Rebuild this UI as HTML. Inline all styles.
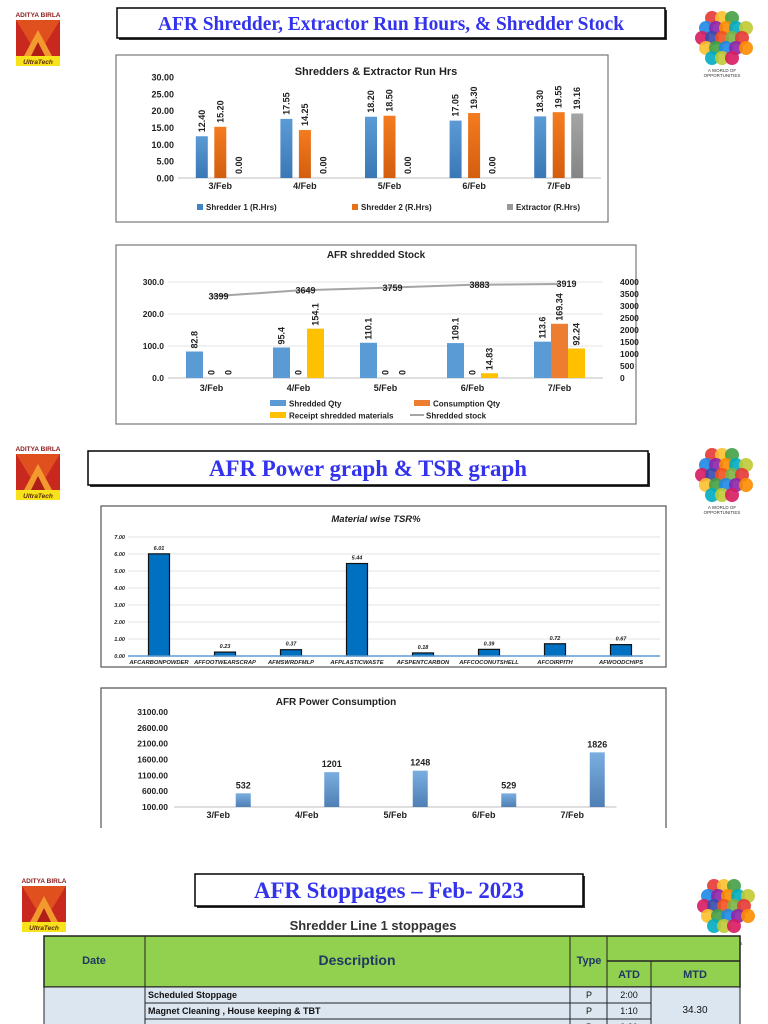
<!DOCTYPE html>
<html><head><meta charset="utf-8">
<style>
html,body{margin:0;padding:0;background:#fff;}
svg{display:block;font-family:"Liberation Sans",sans-serif;}
</style></head>
<body>
<svg id="page" width="768" height="1024" viewBox="0 0 768 1024" xmlns="http://www.w3.org/2000/svg">
<defs>
<linearGradient id="gBlue" x1="0" y1="0" x2="0" y2="1"><stop offset="0" stop-color="#5B9BD5"/><stop offset="1" stop-color="#3A78B5"/></linearGradient>
<linearGradient id="gOrange" x1="0" y1="0" x2="0" y2="1"><stop offset="0" stop-color="#F47B20"/><stop offset="1" stop-color="#D35E0E"/></linearGradient>
<linearGradient id="gGray" x1="0" y1="0" x2="0" y2="1"><stop offset="0" stop-color="#A5A5A5"/><stop offset="1" stop-color="#858585"/></linearGradient>
<linearGradient id="gPow" x1="0" y1="0" x2="0" y2="1"><stop offset="0" stop-color="#7AAEE0"/><stop offset="1" stop-color="#4F7FB4"/></linearGradient>
</defs>
<g id="layer"></g>
</svg>
<script>
// ---------- data ----------
const runCats = ["3/Feb","4/Feb","5/Feb","6/Feb","7/Feb"];
const shredder1 = [12.40,17.55,18.20,17.05,18.30];
const shredder2 = [15.20,14.25,18.50,19.30,19.55];
const extractor = [0.00,0.00,0.00,0.00,19.16];
const runTicks = [0,5,10,15,20,25,30];

const stockCats = ["3/Feb","4/Feb","5/Feb","6/Feb","7/Feb"];
const shreddedQty = [82.8,95.4,110.1,109.1,113.6];
const consumptionQty = [0,0,0,0,169.34];
const receiptQty = [0,154.1,0,14.83,92.24];
const receiptLabels = ["0","154.1","0","14.83","92.24"];
const consLabels = ["0","0","0","0","169.34"];
const shreddedStock = [3399,3649,3759,3883,3919];
const stockLeftTicks = [0,100,200,300];
const stockRightTicks = [0,500,1000,1500,2000,2500,3000,3500,4000];

const tsrCats = ["AFCARBONPOWDER","AFFOOTWEARSCRAP","AFMSWRDFMLP","AFPLASTICWASTE","AFSPENTCARBON","AFFCOCONUTSHELL","AFCOIRPITH","AFWOODCHIPS"];
const tsrVals = [6.01,0.23,0.37,5.44,0.18,0.39,0.72,0.67];
const tsrTicks = [0,1,2,3,4,5,6,7];

const powCats = ["3/Feb","4/Feb","5/Feb","6/Feb","7/Feb"];
const powVals = [532,1201,1248,529,1826];
const powTicks = [100,600,1100,1600,2100,2600,3100];

// ---------- helpers ----------
const NS="http://www.w3.org/2000/svg";
const layer=document.getElementById('layer');
function mk(tag,attrs,parent,txt){const e=document.createElementNS(NS,tag);for(const k in attrs)e.setAttribute(k,attrs[k]);if(txt!==undefined)e.textContent=txt;(parent||layer).appendChild(e);return e;}
function grp(name,parent){const g=mk('g',{},parent);return g;}

// ---------- logos ----------
function birla(x,y,name){
  const g=grp(name);
  mk('text',{x:x+22,y:y+7,'font-size':6.5,'font-weight':'bold',fill:'#8B1A1A','text-anchor':'middle'},g,'ADITYA BIRLA');
  mk('rect',{x:x,y:y+10,width:44,height:36,fill:'#C8281E'},g);
  mk('polygon',{points:`${x},${y+10} ${x+22},${y+46} ${x+44},${y+10}`,fill:'#E0501E'},g);
  mk('polygon',{points:`${x+8},${y+46} ${x+22},${y+20} ${x+36},${y+46}`,fill:'#F29A2E'},g);
  mk('polygon',{points:`${x+15},${y+46} ${x+22},${y+32} ${x+29},${y+46}`,fill:'#B01E18'},g);
  mk('rect',{x:x,y:y+46,width:44,height:10,fill:'#F7E21B'},g);
  mk('text',{x:x+22,y:y+54,'font-size':6.5,'font-weight':'bold','font-style':'italic',fill:'#5A2A0A','text-anchor':'middle'},g,'UltraTech');
}
function world(cx,cy,name){
  const g=grp(name);
  const cols=['#E53935','#FBC02D','#43A047','#1E88E5','#8E24AA','#FB8C00','#00ACC1','#C0CA33','#D81B60','#3949AB','#F4511E','#7CB342'];
  let i=0;
  for(let r=0;r<5;r++){for(let c=0;c<5;c++){const dx=(c-2)*10+(r%2)*4,dy=(r-2)*10;if(dx*dx+dy*dy>700)continue;mk('circle',{cx:cx+dx,cy:cy+dy,r:7,fill:cols[i++%cols.length],opacity:0.9},g);}}
  mk('text',{x:cx,y:cy+34,'font-size':4.5,fill:'#333','text-anchor':'middle'},g,'A WORLD OF');
  mk('text',{x:cx,y:cy+39,'font-size':4.5,fill:'#333','text-anchor':'middle'},g,'OPPORTUNITIES');
}
function titleBox(x,y,w,h,txt,fs,tl,name){
  const g=grp(name);
  mk('rect',{x:x+2,y:y+2,width:w,height:h,fill:'#333'},g);
  mk('rect',{x:x,y:y,width:w,height:h,fill:'#fff',stroke:'#000','stroke-width':1.5},g);
  mk('text',{x:x+w/2,y:y+h/2+fs*0.35,'font-family':'"Liberation Serif",serif','font-size':fs,'font-weight':'bold',fill:'#3333EE','text-anchor':'middle',textLength:tl,lengthAdjust:'spacingAndGlyphs'},g,txt);
}

birla(16,10,'ultratech-logo-1'); world(722,38,'world-logo-1');
titleBox(117,8,548,30,'AFR Shredder, Extractor Run Hours, & Shredder Stock',20,466,'page-title-1');
birla(16,444,'ultratech-logo-2'); world(722,475,'world-logo-2');
titleBox(88,451,560,34,'AFR Power graph & TSR graph',23,318,'page-title-2');
birla(22,876,'ultratech-logo-3'); world(724,906,'world-logo-3');
titleBox(195,874,388,32,'AFR  Stoppages – Feb- 2023',23,270,'page-title-3');

// ---------- chart 1: run hours ----------
(function(){
  const g=grp('run-hours-chart');
  mk('rect',{x:116,y:55,width:492,height:167,fill:'#fff',stroke:'#777','stroke-width':1.2},g);
  mk('text',{x:376,y:75,'font-size':11,'font-weight':'bold',fill:'#222','text-anchor':'middle'},g,'Shredders & Extractor Run Hrs');
  const y0=178,y1=77,left=178,step=84.6;
  const Y=v=>y0-(v/30)*(y0-y1);
  const X=i=>left+step*(i+0.5);
  runTicks.forEach(t=>{mk('text',{x:174,y:Y(t)+3.5,'font-size':9,'font-weight':'bold',fill:'#222','text-anchor':'end'},g,t.toFixed(2));});
  mk('line',{x1:left,y1:y0,x2:left+step*5,y2:y0,stroke:'#BFBFBF'},g);
  const series=[[shredder1,'url(#gBlue)',-18.5,'shredder1'],[shredder2,'url(#gOrange)',0,'shredder2'],[extractor,'url(#gGray)',18.5,'extractor']];
  runCats.forEach((c,i)=>{
    mk('text',{x:X(i),y:y0+11,'font-size':9,'font-weight':'bold',fill:'#222','text-anchor':'middle'},g,c);
    series.forEach(s=>{
      const v=s[0][i],cx=X(i)+s[2];
      const b=mk('rect',{x:cx-6,y:Y(v),width:12,height:y0-Y(v),fill:s[1]},g);
      
      
      const ty=Y(v)-4;
      mk('text',{x:cx+3,y:ty,'font-size':9,'font-weight':'bold',fill:'#222',transform:`rotate(-90 ${cx+3} ${ty})`},g,v.toFixed(2));
    });
  });
  const leg=[[197,'#3F85C6','Shredder 1 (R.Hrs)'],[352,'#E8701A','Shredder 2 (R.Hrs)'],[507,'#999','Extractor (R.Hrs)']];
  leg.forEach(l=>{const e=grp('legend-entry',g);mk('rect',{x:l[0],y:204,width:6,height:6,fill:l[1]},e);mk('text',{x:l[0]+9,y:210,'font-size':8,'font-weight':'bold',fill:'#222'},e,l[2]);});
})();

// ---------- chart 2: shredded stock ----------
(function(){
  const g=grp('shredded-stock-chart');
  mk('rect',{x:116,y:245,width:520,height:179,fill:'#fff',stroke:'#777','stroke-width':1.2},g);
  mk('text',{x:376,y:258,'font-size':10,'font-weight':'bold',fill:'#222','text-anchor':'middle'},g,'AFR shredded Stock');
  const y0=378,y1=282,left=168,step=87;
  const Y=v=>y0-(v/300)*(y0-y1);
  const YR=v=>y0-(v/4000)*(y0-y1);
  const X=i=>left+step*(i+0.5);
  stockLeftTicks.forEach(t=>{
    mk('line',{x1:left,y1:Y(t),x2:left+step*5,y2:Y(t),stroke:t===0?'#BFBFBF':'#E5E5E5'},g);
    mk('text',{x:164,y:Y(t)+3,'font-size':8.5,'font-weight':'bold',fill:'#222','text-anchor':'end'},g,t.toFixed(1));
  });
  stockRightTicks.forEach(t=>{mk('text',{x:620,y:YR(t)+3,'font-size':8.5,'font-weight':'bold',fill:'#222'},g,String(t));});
  const series=[[shreddedQty,'#5B9BD5',-17,'shredded-qty',shreddedQty.map(v=>v.toFixed(1))],[consumptionQty,'#ED7D31',0,'consumption-qty',consLabels],[receiptQty,'#FFC000',17,'receipt-shredded',receiptLabels]];
  stockCats.forEach((c,i)=>{
    mk('text',{x:X(i),y:y0+13,'font-size':9,'font-weight':'bold',fill:'#222','text-anchor':'middle'},g,c);
    series.forEach(s=>{
      const v=s[0][i],cx=X(i)+s[2];
      const b=mk('rect',{x:cx-8.5,y:Y(v),width:17,height:y0-Y(v),fill:s[1]},g);
      
      
      const ty=Y(v)-3;
      mk('text',{x:cx+3,y:ty,'font-size':9,'font-weight':'bold',fill:'#222',transform:`rotate(-90 ${cx+3} ${ty})`},g,s[4][i]);
    });
  });
  const pts=shreddedStock.map((v,i)=>`${X(i)},${YR(v)}`).join(' ');
  const ln=mk('polyline',{points:pts,fill:'none',stroke:'#A5A5A5','stroke-width':2},g);
  
  
  shreddedStock.forEach((v,i)=>{mk('text',{x:X(i)+7,y:YR(v)+3,'font-size':9,'font-weight':'bold',fill:'#222','text-anchor':'middle'},g,String(v));});
  const leg=[[270,400,'#5B9BD5','Shredded Qty'],[414,400,'#ED7D31','Consumption  Qty'],[270,412,'#FFC000','Receipt shredded materials']];
  leg.forEach(l=>{const e=grp('legend-entry',g);mk('rect',{x:l[0],y:l[1],width:16,height:6,fill:l[2]},e);mk('text',{x:l[0]+19,y:l[1]+6.5,'font-size':8,'font-weight':'bold',fill:'#222'},e,l[3]);});
  const e=grp('legend-entry',g);mk('line',{x1:410,y1:415,x2:424,y2:415,stroke:'#A5A5A5','stroke-width':2},e);mk('text',{x:426,y:418.5,'font-size':8,'font-weight':'bold',fill:'#222'},e,'Shredded stock');
})();

// ---------- chart 3: TSR ----------
(function(){
  const g=grp('material-tsr-chart');
  mk('rect',{x:101,y:506,width:565,height:161,fill:'#fff',stroke:'#555','stroke-width':1.2},g);
  mk('text',{x:376,y:522,'font-size':9.5,'font-weight':'bold','font-style':'italic',fill:'#222','text-anchor':'middle'},g,'Material wise TSR%');
  const y0=656,y1=537,left=126,step=66;
  const Y=v=>y0-(v/7)*(y0-y1);
  const X=i=>left+step*(i+0.5);
  tsrTicks.forEach(t=>{
    mk('line',{x1:128,y1:Y(t),x2:660,y2:Y(t),stroke:'#E3E3E3'},g);
    mk('text',{x:125,y:Y(t)+2,'font-size':5.5,'font-weight':'bold','font-style':'italic',fill:'#222','text-anchor':'end'},g,t.toFixed(2));
  });
  tsrCats.forEach((c,i)=>{
    const v=tsrVals[i],cx=X(i);
    const b=mk('rect',{x:cx-10.5,y:Y(v),width:21,height:y0-Y(v),fill:'#0070C0',stroke:'#111','stroke-width':1.2},g);
    
    
    mk('text',{x:cx,y:Y(v)-4,'font-size':5.5,'font-weight':'bold','font-style':'italic',fill:'#222','text-anchor':'middle'},g,v.toFixed(2));
    mk('text',{x:cx,y:y0+8,'font-size':5.8,'font-weight':'bold','font-style':'italic',fill:'#222','text-anchor':'middle'},g,c);
  });
  mk('line',{x1:128,y1:y0,x2:660,y2:y0,stroke:'#5B9BD5','stroke-width':1.5},g);
})();

// ---------- chart 4: power ----------
(function(){
  const g=grp('power-consumption-chart');
  mk('polyline',{points:'101,828 101,688 666,688 666,828',fill:'none',stroke:'#555','stroke-width':1.2},g);
  mk('text',{x:336,y:705,'font-size':10,'font-weight':'bold',fill:'#222','text-anchor':'middle'},g,'AFR Power Consumption');
  const y0=807,y1=712,left=174,step=88.5;
  const Y=v=>y0-((v-100)/3000)*(y0-y1);
  const X=i=>left+step*(i+0.5);
  powTicks.forEach(t=>{mk('text',{x:168,y:Y(t)+3,'font-size':8.5,'font-weight':'bold',fill:'#222','text-anchor':'end'},g,t.toFixed(2));});
  mk('line',{x1:left,y1:y0,x2:left+step*5,y2:y0,stroke:'#BFBFBF'},g);
  powCats.forEach((c,i)=>{
    const v=powVals[i],cx=X(i)+25;
    const b=mk('rect',{x:cx-7.5,y:Y(v),width:15,height:y0-Y(v),fill:'url(#gPow)'},g);
    
    
    mk('text',{x:cx,y:Y(v)-5,'font-size':9,'font-weight':'bold',fill:'#222','text-anchor':'middle'},g,String(v));
    mk('text',{x:X(i),y:y0+11,'font-size':9,'font-weight':'bold',fill:'#222','text-anchor':'middle'},g,c);
  });
})();

// ---------- stoppages table ----------
(function(){
  const g=grp('stoppages-table');
  mk('text',{x:373,y:930,'font-size':13,'font-weight':'bold',fill:'#333','text-anchor':'middle'},g,'Shredder Line 1 stoppages');
  const green='#92D050',blue='#DCE6F1',bd='#222';
  // header
  mk('rect',{x:44,y:936,width:696,height:51,fill:green,stroke:bd,'stroke-width':1.5},g);
  [145,570,607].forEach(x=>mk('line',{x1:x,y1:936,x2:x,y2:987,stroke:bd},g));
  mk('line',{x1:651,y1:961,x2:651,y2:987,stroke:bd},g);
  mk('line',{x1:607,y1:961,x2:740,y2:961,stroke:bd,'stroke-width':1.5},g);
  const hs={'font-weight':'bold',fill:'#1F3864','text-anchor':'middle'};
  mk('text',Object.assign({x:94,y:964,'font-size':11},hs),g,'Date');
  mk('text',Object.assign({x:357,y:965,'font-size':14},hs),g,'Description');
  mk('text',Object.assign({x:589,y:964,'font-size':11},hs),g,'Type');
  mk('text',Object.assign({x:629,y:978,'font-size':11},hs),g,'ATD');
  mk('text',Object.assign({x:695,y:978,'font-size':11},hs),g,'MTD');
  // body
  mk('rect',{x:44,y:987,width:696,height:40,fill:blue,stroke:bd},g);
  [145,570,607,651].forEach(x=>mk('line',{x1:x,y1:987,x2:x,y2:1024,stroke:bd},g));
  const rows=[['Scheduled Stoppage','P','2:00'],['Magnet Cleaning , House keeping & TBT','P','1:10'],['','P','0:30']];
  rows.forEach((r,i)=>{
    const y=987+i*16;
    mk('line',{x1:145,y1:y+16,x2:651,y2:y+16,stroke:bd},g);
    mk('text',{x:148,y:y+11,'font-size':9,'font-weight':'bold',fill:'#111'},g,r[0]);
    mk('text',{x:589,y:y+11,'font-size':9,fill:'#111','text-anchor':'middle'},g,r[1]);
    mk('text',{x:629,y:y+11,'font-size':9,fill:'#111','text-anchor':'middle'},g,r[2]);
  });
  mk('text',{x:695,y:1013,'font-size':10,fill:'#111','text-anchor':'middle'},g,'34.30');
})();
</script>
</body></html>
